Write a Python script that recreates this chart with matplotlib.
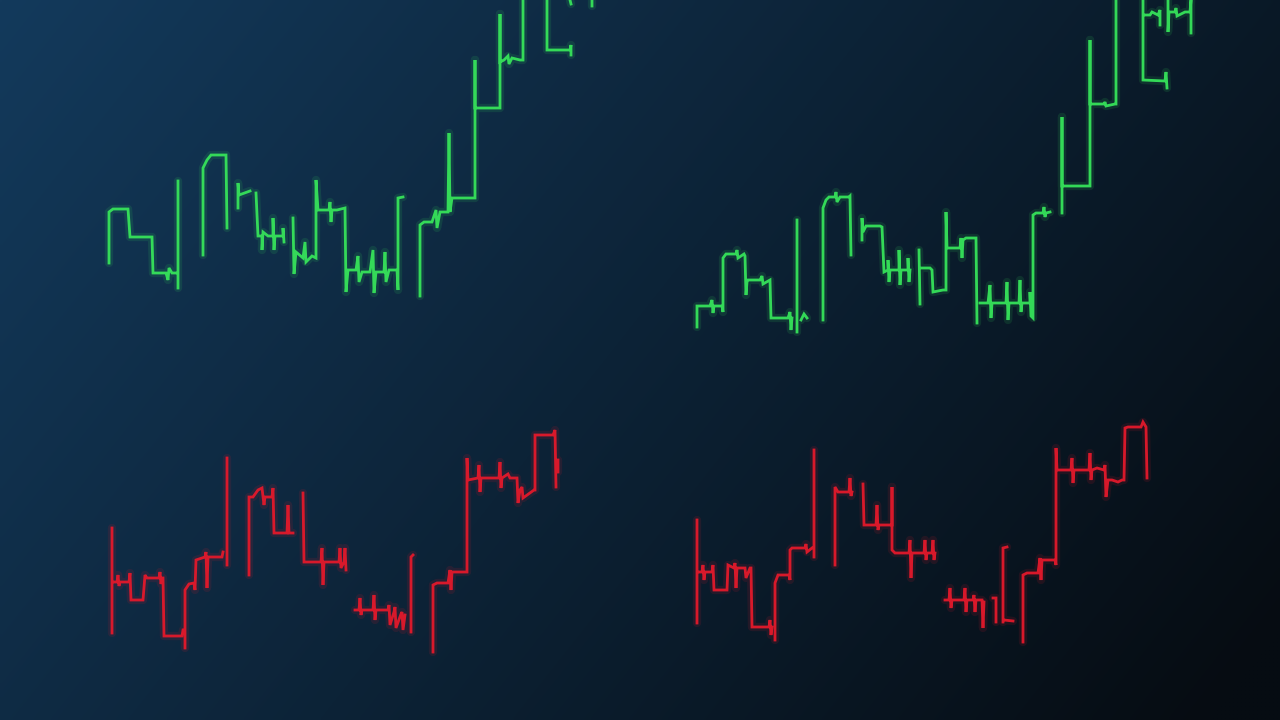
import numpy as np
import matplotlib
matplotlib.use("Agg")
import matplotlib.pyplot as plt

NaN = np.nan

# ── Traced price paths (pixel-like units, y grows downward) ─────────────

TL_X = [109, 109, 113, 128, 130, 152, 153, 166, 168, 169, 172, 177, NaN,
        178, 178, NaN,
        203, 203, 207, 211, 226, 227, NaN,
        238, 238, 239, 250, NaN,
        256, 258, 262, 262, 263, 268, 273, 273, 274, 275, 283, 283, 284, NaN,
        293, 294, 296, 303, 305, 306, 312, 316, 316, 318, 329, 330, 331, 332,
        337, 345, 346, 348, 356, 358, 359, 362, 370, 373, 374, 376, 384, 385,
        386, 389, 397, 398, 398, 403, NaN,
        420, 420, 424, 432, 436, 437, 440, 448, 449, 450, 452, 475, 475, 475,
        500, 500, 500, 504, 508, 509, 512, 520, 523, 523, NaN,
        547, 547, 570, 571, 571, NaN,
        570, 571, NaN, 592, 592]
TL_Y = [263, 212, 209, 209, 237, 237, 273, 273, 280, 268, 273, 273, NaN,
        288, 181, NaN,
        255, 168, 160, 155, 155, 228, NaN,
        208, 183, 195, 191, NaN,
        193, 236, 236, 250, 232, 236, 236, 218, 250, 236, 236, 228, 242, NaN,
        218, 274, 252, 258, 242, 262, 256, 258, 180, 210, 210, 202, 222, 210,
        210, 208, 292, 270, 270, 256, 282, 272, 272, 250, 293, 272, 272, 252,
        282, 270, 270, 290, 198, 197, NaN,
        296, 225, 222, 222, 210, 228, 212, 212, 133, 212, 198, 198, 60, 108,
        108, 14, 62, 60, 56, 64, 58, 60, 60, -5, NaN,
        -5, 50, 50, 45, 55, NaN,
        0, 4, NaN, 0, 6]

TR_X = [697, 697, 700, 710, 712, 713, 714, 722, 723, 723, 726, 736, 737, 738,
        744, 745, 746, 747, 748, 760, 762, 763, 770, 771, 788, 790, 791, 792, NaN,
        797, 797, NaN,
        801, 804, 807, NaN,
        823, 823, 826, 829, 835, 836, 837, 840, 849, 850, 851, NaN,
        862, 862, 863, 866, 880, 882, 884, 888, 888, 889, 890, 899, 899, 900,
        901, 908, 908, 909, 910, NaN,
        919, 920, NaN,
        922, 930, 932, 933, 943, 946, 946, 947, 950, 960, 961, 962, 963, 966,
        976, 977, NaN,
        980, 988, 990, 991, 992, 1006, 1007, 1008, 1009, 1019, 1020, 1021, 1022,
        1030, 1030, 1031, 1033, 1033, 1036, 1043, 1044, 1045, 1046, 1050, NaN,
        1062, 1062, 1062, 1090, 1090, 1090, 1094, 1104, 1105, 1106, 1115, 1116,
        1116, NaN,
        1143, 1143, 1165, 1166, 1167, NaN,
        1145, 1150, 1152, 1158, 1160, 1160, NaN,
        1168, 1168, 1169, 1175, 1176, 1177, 1185, 1190, 1191, 1191]
TR_Y = [327, 306, 306, 306, 300, 313, 306, 306, 312, 258, 254, 254, 250, 258,
        254, 256, 295, 282, 280, 280, 276, 284, 280, 318, 318, 312, 330, 318, NaN,
        332, 220, NaN,
        320, 314, 318, NaN,
        320, 208, 200, 197, 197, 192, 202, 197, 197, 196, 255, NaN,
        240, 218, 232, 226, 226, 227, 272, 270, 260, 282, 270, 270, 250, 285,
        270, 270, 258, 282, 270, NaN,
        250, 304, NaN,
        268, 268, 270, 292, 290, 290, 212, 248, 248, 248, 238, 258, 240, 238,
        238, 323, NaN,
        303, 303, 285, 318, 303, 303, 282, 320, 303, 303, 280, 312, 303,
        303, 292, 316, 318, 215, 213, 213, 207, 217, 213, 212, NaN,
        213, 117, 186, 186, 40, 104, 104, 104, 102, 106, 104, 104,
        -5, NaN,
        -5, 80, 81, 72, 88, NaN,
        15, 15, 12, 15, 10, 25, NaN,
        0, 32, 12, 12, 8, 16, 12, 12, 0, 33]

BL_X = [112, 112, NaN,
        113, 117, 118, 119, 120, 129, 130, 131, 143, 145, 147, 159, 160, 161,
        162, 163, 164, 182, 183, NaN,
        185, 185, 189, 194, 195, 196, 205, 206, 207, 208, 222, 223, NaN,
        227, 227, NaN,
        249, 249, 253, 258, 262, 264, 265, 272, 273, 274, 287, 288, 289, 293, NaN,
        303, 304, 321, 322, 323, 324, 339, 340, 341, 344, 345, 346, NaN,
        355, 359, 360, 361, 362, 373, 374, 375, 376, 388, 389, 390, 394, 395,
        396, 401, 402, 403, 405, NaN,
        411, 411, 413, NaN,
        433, 433, 437, 448, 450, 451, 452, 465, 467, 467, 468, 478, 479, 480,
        481, 499, 500, 501, 502, 508, 510, 517, 518, 520, 522, 523, 534, 535,
        535, 553, 555, 556, NaN,
        558, 558]
BL_Y = [528, 633, NaN,
        582, 582, 575, 586, 582, 582, 573, 600, 600, 575, 578, 578, 572, 584,
        578, 578, 636, 636, 630, NaN,
        648, 590, 584, 583, 590, 560, 557, 552, 588, 557, 557, 552, NaN,
        565, 458, NaN,
        575, 497, 497, 490, 488, 505, 497, 497, 488, 533, 533, 505, 533, 533, NaN,
        493, 562, 562, 548, 585, 562, 562, 548, 568, 562, 548, 570, NaN,
        610, 610, 598, 615, 610, 610, 595, 620, 610, 610, 605, 625, 612, 607,
        628, 614, 612, 630, 615, NaN,
        632, 557, 555, NaN,
        652, 585, 583, 583, 570, 590, 572, 572, 572, 458, 480, 478, 465, 492,
        478, 478, 462, 488, 478, 474, 478, 478, 503, 490, 487, 498, 490, 490,
        435, 435, 430, 487, NaN,
        460, 472]

BR_X = [697, 697, NaN,
        699, 702, 703, 704, 705, 712, 713, 714, 727, 728, 734, 735, 736, 737,
        744, 745, 746, 750, 751, 752, 769, 770, 771, 772, NaN,
        775, 775, 778, 789, 790, 790, 792, 805, 806, 807, 812, NaN,
        814, 814, NaN,
        835, 835, 838, 849, 850, 851, 852, NaN,
        863, 864, 876, 877, 878, 879, 890, 892, 892, 892, 895, 909, 910, 911,
        912, 924, 925, 926, 927, 932, 933, 934, 935, NaN,
        945, 949, 950, 951, 952, 964, 965, 966, 967, 973, 974, 975, 976, 981,
        982, 983, 984, NaN,
        993, 996, 996, NaN,
        1003, 1003, 1007, NaN,
        1004, 1013, NaN,
        1023, 1023, 1027, 1038, 1040, 1041, 1042, 1055, 1056, 1056, 1057, 1060,
        1071, 1072, 1073, 1074, 1089, 1090, 1091, 1092, 1097, 1104, 1105, 1106,
        1108, 1112, 1118, 1122, 1124, 1125, 1128, 1141, 1143, 1146, 1147]
BR_Y = [520, 623, NaN,
        572, 572, 565, 580, 572, 572, 565, 590, 590, 565, 568, 563, 588, 568,
        568, 568, 578, 568, 568, 627, 627, 620, 635, 627, NaN,
        640, 583, 575, 575, 580, 550, 548, 548, 544, 552, 548, NaN,
        557, 450, NaN,
        565, 487, 492, 492, 478, 496, 492, NaN,
        484, 525, 525, 505, 530, 525, 525, 525, 487, 550, 553, 553, 540, 578,
        553, 553, 540, 560, 553, 553, 540, 560, 553, NaN,
        600, 600, 588, 608, 600, 600, 588, 612, 600, 600, 595, 612, 600, 600,
        600, 628, 602, NaN,
        598, 598, 622, NaN,
        622, 548, 547, NaN,
        620, 621, NaN,
        642, 575, 573, 573, 558, 580, 560, 560, 565, 448, 470, 470,
        470, 458, 483, 470, 470, 453, 480, 470, 468, 470, 465, 497,
        480, 480, 482, 480, 480, 428, 427, 427, 422, 427, 478]

GREEN = "#36e35a"
RED = "#e3192b"

BG_LIGHT = np.array([19, 58, 92]) / 255.0
BG_DARK = np.array([6, 12, 18]) / 255.0

W, H = 1280, 720


def main():
    fig = plt.figure(figsize=(12.8, 7.2), dpi=100)
    ax = fig.add_axes([0, 0, 1, 1])
    ax.set_axis_off()

    # dark blue diagonal gradient backdrop
    gx, gy = np.meshgrid(np.linspace(0, 1, 320), np.linspace(0, 1, 180))
    t = np.clip(0.72 * gx + 0.32 * gy, 0, 1)[..., None]
    img = BG_LIGHT * (1 - t) + BG_DARK * t
    ax.imshow(img, extent=[0, W, H, 0], aspect="auto", interpolation="bilinear",
              zorder=0)

    series = [(TL_X, TL_Y, GREEN), (TR_X, TR_Y, GREEN),
              (BL_X, BL_Y, RED), (BR_X, BR_Y, RED)]
    for xs, ys, col in series:
        # soft glow underneath, then the crisp line
        ax.plot(xs, ys, color=col, lw=6, alpha=0.12, solid_capstyle="round",
                zorder=2)
        ax.plot(xs, ys, color=col, lw=2.0, alpha=0.95, solid_joinstyle="miter",
                zorder=3)

    ax.set_xlim(0, W)
    ax.set_ylim(H, 0)
    fig.savefig("out.png", dpi=100)
    plt.close(fig)


if __name__ == "__main__":
    main()
